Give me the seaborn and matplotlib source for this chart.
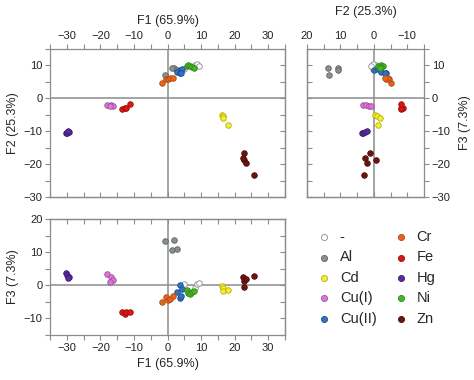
import matplotlib
matplotlib.use("Agg")
import matplotlib.pyplot as plt
import seaborn as sns
import pandas as pd
from matplotlib.ticker import MultipleLocator

# groups in legend order
groups = ["-", "Al", "Cd", "Cu(I)", "Cu(II)", "Cr", "Fe", "Hg", "Ni", "Zn"]

# factor scores
f1 = {
    "-": [4.8, 8.3, 8.9, 9.4],
    "Al": [-0.6, 1.9, 1.4, 2.8],
    "Cd": [16.2, 16.6, 16.4, 17.9],
    "Cu(I)": [-17.9, -16.9, -16.3, -17.2],
    "Cu(II)": [3.8, 4.3, 2.9, 3.6, 3.9],
    "Cr": [-1.6, -0.4, 0.1, 0.8, 1.6],
    "Fe": [-13.5, -12.8, -12.3, -11.1],
    "Hg": [-30.1, -29.9, -29.4, -29.6],
    "Ni": [5.8, 6.2, 6.7, 7.2, 7.8],
    "Zn": [25.8, 22.8, 22.8, 22.6, 23.5],
}
f2 = {
    "-": [9.0, 10.0, 10.3, 9.8],
    "Al": [7.0, 9.3, 9.2, 8.7],
    "Cd": [-5.0, -5.5, -6.0, -8.2],
    "Cu(I)": [-2.1, -1.9, -2.2, -2.4],
    "Cu(II)": [8.6, 9.0, 8.1, 7.8, 7.6],
    "Cr": [4.7, 5.8, 6.0, 6.2, 6.3],
    "Fe": [-3.1, -2.9, -3.0, -1.7],
    "Hg": [-10.4, -10.6, -10.3, -10.0],
    "Ni": [9.8, 10.0, 9.9, 9.6, 9.2],
    "Zn": [-23.3, -18.8, -16.7, -18.2, -19.8],
}
f3 = {
    "-": [0.3, -0.7, 0.3, 0.8],
    "Al": [13.4, 13.8, 10.6, 10.8],
    "Cd": [-0.2, -0.8, -1.8, -1.3],
    "Cu(I)": [3.3, 2.4, 1.6, 1.0],
    "Cu(II)": [0.0, -1.2, -2.0, -3.7, -3.2],
    "Cr": [-5.0, -3.5, -4.5, -4.2, -3.3],
    "Fe": [-8.2, -8.6, -8.2, -8.0],
    "Hg": [3.6, 3.2, 2.6, 2.1],
    "Ni": [-1.3, -2.2, -2.6, -2.1, -1.7],
    "Zn": [2.8, -0.6, 1.3, 2.6, 2.0],
}

face_colors = {
    "-": "#ffffff", "Al": "#8a8f8f", "Cd": "#f2ee3a", "Cu(I)": "#d77ad6",
    "Cu(II)": "#2f73c2", "Cr": "#e8641e", "Fe": "#d91818", "Hg": "#5a2c9e",
    "Ni": "#46b52a", "Zn": "#6e1410",
}
edge_colors = {
    "-": "#8c8c8c", "Al": "#5e6363", "Cd": "#b8b000", "Cu(I)": "#a04ca0",
    "Cu(II)": "#1d4f8c", "Cr": "#b04a12", "Fe": "#a00e0e", "Hg": "#3c1a70",
    "Ni": "#2f8a18", "Zn": "#4a0c08",
}

rows = []
for g in groups:
    for a, b, c in zip(f1[g], f2[g], f3[g]):
        rows.append({"group": g, "F1": a, "F2": b, "F3": c})
df = pd.DataFrame(rows)

sns.set_style("white")
plt.rcParams["font.family"] = ["Liberation Sans", "DejaVu Sans"]

GRAY = "#8c8c8c"

fig = plt.figure(figsize=(4.74, 3.8), dpi=100)
ax_tl = fig.add_axes([0.1055, 0.4816, 0.4958, 0.3895])
ax_tr = fig.add_axes([0.6477, 0.4816, 0.2468, 0.3895])
ax_bl = fig.add_axes([0.1055, 0.1184, 0.4958, 0.3053])


def draw(ax, xcol, ycol, with_label=False):
    for g in groups:
        sub = df[df["group"] == g]
        sns.scatterplot(data=sub, x=xcol, y=ycol, ax=ax, color=face_colors[g],
                        edgecolor=edge_colors[g], linewidth=0.6, s=16,
                        label=g if with_label else None, legend=False, zorder=3)
    ax.axhline(0, color=GRAY, lw=1.1, zorder=1)
    ax.axvline(0, color=GRAY, lw=1.1, zorder=1)


def style(ax, xside, yside, xlim, ylim, xticks, yticks):
    ax.set_xlim(*xlim)
    ax.set_ylim(*ylim)
    ax.set_xticks(xticks)
    ax.set_yticks(yticks)
    ax.xaxis.set_minor_locator(MultipleLocator(5))
    ax.yaxis.set_minor_locator(MultipleLocator(5))
    ax.xaxis.set_ticks_position(xside)
    ax.xaxis.set_label_position(xside)
    ax.yaxis.set_ticks_position(yside)
    ax.yaxis.set_label_position(yside)
    ax.tick_params(which="both", direction="out", length=3.5, width=0.8,
                   color=GRAY, labelsize=8, pad=2, labelcolor="#222222")
    for sp in ax.spines.values():
        sp.set_color(GRAY)
        sp.set_linewidth(0.9)
    # ticks pointing inward on the sides without labels
    sx = ax.secondary_xaxis("bottom" if xside == "top" else "top")
    sx.set_xticks(xticks)
    sx.xaxis.set_minor_locator(MultipleLocator(5))
    sx.tick_params(which="both", direction="in", length=3.5, width=0.8, color=GRAY,
                   labelbottom=False, labeltop=False)
    for sp in sx.spines.values():
        sp.set_color(GRAY)
        sp.set_linewidth(0.9)
    sy = ax.secondary_yaxis("right" if yside == "left" else "left")
    sy.set_yticks(yticks)
    sy.yaxis.set_minor_locator(MultipleLocator(5))
    sy.tick_params(which="both", direction="in", length=3.5, width=0.8, color=GRAY,
                   labelleft=False, labelright=False)
    for sp in sy.spines.values():
        sp.set_color(GRAY)
        sp.set_linewidth(0.9)


draw(ax_tl, "F1", "F2")
draw(ax_tr, "F3", "F2")
draw(ax_bl, "F1", "F3", with_label=True)

style(ax_tl, "top", "left", (-35, 35), (-30, 15), [-30, -20, -10, 0, 10, 20, 30], [-30, -20, -10, 0, 10])
style(ax_tr, "top", "right", (20, -15), (-30, 15), [20, 10, 0, -10], [-30, -20, -10, 0, 10])
style(ax_bl, "bottom", "left", (-35, 35), (-15, 20), [-30, -20, -10, 0, 10, 20, 30], [-10, 0, 10, 20])

ax_tl.set_xlabel("F1 (65.9%)", fontsize=9, labelpad=5)
ax_tl.set_ylabel("F2 (25.3%)", fontsize=9, labelpad=3)
ax_tr.set_xlabel("F2 (25.3%)", fontsize=9, labelpad=12)
ax_tr.set_ylabel("F3 (7.3%)", fontsize=9, labelpad=6, rotation=90)
ax_bl.set_xlabel("F1 (65.9%)", fontsize=9, labelpad=4)
ax_bl.set_ylabel("F3 (7.3%)", fontsize=9, labelpad=3)

handles, labels = ax_bl.get_legend_handles_labels()
fig.legend(handles, labels, ncol=2, loc="upper left", bbox_to_anchor=(0.64, 0.41),
           frameon=False, fontsize=10.5, handletextpad=0.1, labelspacing=0.44,
           columnspacing=0.65, markerscale=1.1, borderaxespad=0)

fig.savefig("out.png", dpi=100)
